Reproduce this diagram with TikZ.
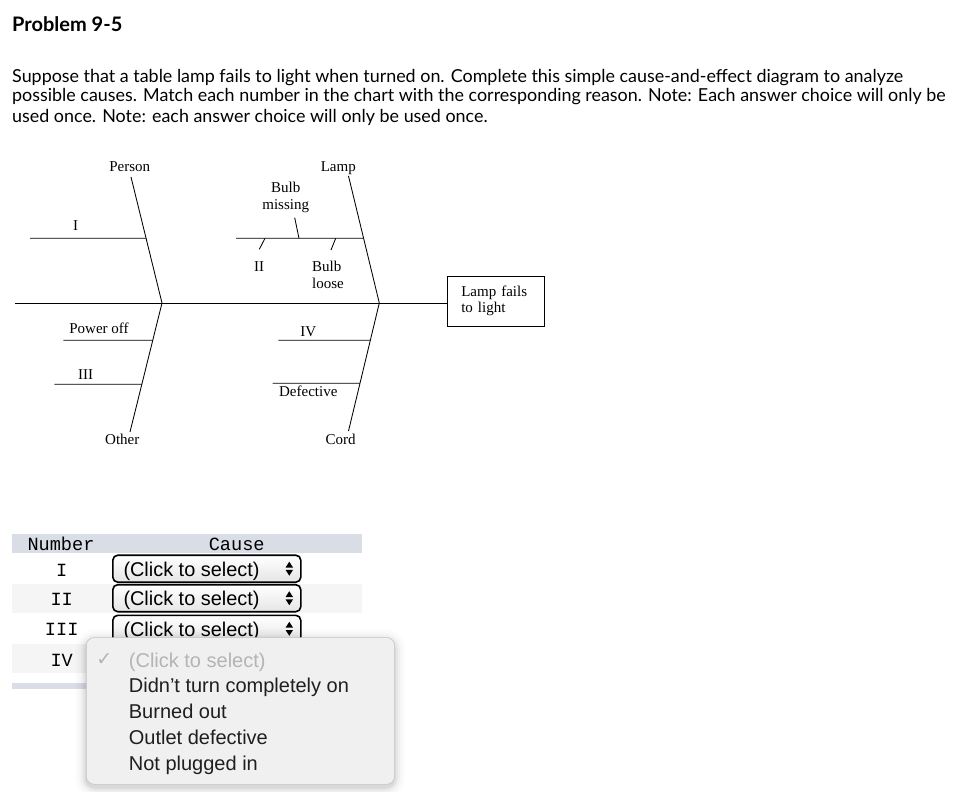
\documentclass[tikz,border=0pt]{standalone}
\usepackage{fontspec}
\usetikzlibrary{calc}
\setmainfont{Liberation Serif}
\newfontfamily\latof{Lato}
\newfontfamily\arialf{Liberation Sans}
\newfontfamily\monof{Liberation Mono}
\newfontfamily\dejavuf{DejaVu Sans}
\definecolor{hdrband}{HTML}{D9DDE6}
\definecolor{rowband}{HTML}{F5F5F5}
\definecolor{popfill}{HTML}{F0F0F0}
\definecolor{popline}{HTML}{C4C4C4}
\definecolor{dimtext}{HTML}{B4B4B4}
\begin{document}
\begin{tikzpicture}[x=1pt,y=-1pt,
  bone/.style={line width=0.85pt, black},
  lbl/.style={font=\fontsize{15}{17}\selectfont, inner sep=0pt, anchor=base},
  para/.style={font=\latof\fontsize{17.9}{20}\selectfont, inner sep=0pt, anchor=base west},
  monotxt/.style={font=\monof\fontsize{18.6}{20}\selectfont, inner sep=0pt, anchor=base},
  selbox/.style={draw=black, line width=1.6pt, rounded corners=5pt, top color=white, bottom color=black!10, minimum width=188pt, minimum height=27pt, inner sep=0pt},
  seltxt/.style={font=\arialf\fontsize{19.9}{22}\selectfont, inner sep=0pt, anchor=base west},
  itemtxt/.style={font=\arialf\fontsize{20}{22}\selectfont, inner sep=0pt, anchor=base west, text=black!88},
]
\useasboundingbox[fill=white] (0,0) rectangle (962,792);

% ---------- heading and question ----------
\node[font=\latof\bfseries\fontsize{20}{24}\selectfont, anchor=base west, inner sep=0pt] (title) at (12,32) {Problem 9-5};
\node[para] (q1) at (12,82) {Suppose that a table lamp fails to light when turned on. Complete this simple cause-and-effect diagram to analyze};
\node[para] (q2) at (12,102) {possible causes. Match each number in the chart with the corresponding reason. Note: Each answer choice will only be};
\node[para] (q3) at (12,122) {used once. Note: each answer choice will only be used once.};

% ---------- fishbone ----------
\coordinate (spineL) at (15,303);
\coordinate (h1) at (162,303);
\coordinate (h2) at (379.3,303);
\coordinate (pT) at (131,177);
\coordinate (oB) at (130,432);
\coordinate (lT) at (348.5,176);
\coordinate (cB) at (348.5,431);

\node[draw, line width=0.85pt, minimum width=97.3pt, minimum height=50.3pt, anchor=north west,
      inner xsep=14pt, text width=69pt, align=left, font=\fontsize{15}{16}\selectfont] (effect) at (446.7,275.7) {Lamp fails\\to light};

\draw[bone] (spineL) -- (spineL -| effect.west);
\draw[bone] (pT) -- (h1) -- (oB);
\draw[bone] (lT) -- (h2) -- (cB);

% branches (left end, and a helper point further right on the same level)
\foreach \nm/\xx/\yy in {bI/30/238.3, bPow/63.3/340.3, bIII/54.3/384.3, bBulb/236/238.3, bIV/278.3/340.3, bDef/272.7/383.3} {
  \coordinate (\nm) at (\xx,\yy);
  \coordinate (\nm x) at (\xx+10,\yy);
}
\draw[bone] (bI) -- (intersection of pT--h1 and bI--bIx);
\draw[bone] (bPow) -- (intersection of h1--oB and bPow--bPowx);
\draw[bone] (bIII) -- (intersection of h1--oB and bIII--bIIIx);
\draw[bone] (bBulb) -- (intersection of lT--h2 and bBulb--bBulbx);
\draw[bone] (bIV) -- (intersection of h2--cB and bIV--bIVx);
\draw[bone] (bDef) -- (intersection of h2--cB and bDef--bDefx);

% sub ticks
\coordinate (tMa) at (299,238.3);  \coordinate (tMb) at (294.7,217.7);
\coordinate (tIIa) at (265,238.3); \coordinate (tIIb) at (259.3,249.3);
\coordinate (tLa) at (335.7,238.3); \coordinate (tLb) at (331,250);
\draw[bone] (tMa) -- (tMb);
\draw[bone] (tIIa) -- (tIIb);
\draw[bone] (tLa) -- (tLb);

% labels
\node[lbl] (lPerson) at (129.7,171.5) {Person};
\node[lbl] (lLamp) at (338.3,171.5) {Lamp};
\node[lbl] (lI) at (75.7,230) {I};
\node[lbl, anchor=base, align=center] (lMiss) at (285.7,209.5) {Bulb\\missing};
\node[lbl] (lII) at (259,271.5) {II};
\node[lbl, anchor=base west, align=left] (lLoose) at (312,288) {Bulb\\loose};
\node[lbl] (lPow) at (99,333) {Power off};
\node[lbl] (lIII) at (85.7,379) {III};
\node[lbl] (lOther) at (122.3,444) {Other};
\node[lbl] (lIV) at (308.3,336.5) {IV};
\node[lbl] (lDef) at (308.3,396) {Defective};
\node[lbl] (lCord) at (340.7,444) {Cord};

% ---------- table ----------
\fill[hdrband] (12,534) rectangle (361.7,553.3);
\fill[rowband] (12,584) rectangle (361.7,612.7);
\fill[rowband] (12,644) rectangle (361.7,673.3);
\fill[hdrband] (12,682.7) rectangle (361.7,689.3);

\node[monotxt] (hNum) at (61,550) {Number};
\node[monotxt] (hCause) at (236.7,550) {Cause};
\node[monotxt] (nI) at (61.7,576) {I};
\node[monotxt] (nII) at (61.7,605) {II};
\node[monotxt] (nIII) at (61.7,635) {III};
\node[monotxt] (nIV) at (61.7,666) {IV};

\foreach \yy/\nm in {568.7/s1, 598.2/s2, 628.8/s3} {
  \node[selbox] (\nm) at (206.8,\yy) {};
  \node[seltxt] at (123.3,\yy+7.5) {(Click to select)};
  \fill (285.6,\yy-1.2) -- (293,\yy-1.2) -- (289.3,\yy-7) -- cycle;
  \fill (285.6,\yy+1.2) -- (293,\yy+1.2) -- (289.3,\yy+7) -- cycle;
}

% ---------- dropdown ----------
\foreach \k/\op in {11/0.01, 8/0.018, 5.5/0.028, 3.5/0.04, 1.5/0.055} {
  \fill[black, opacity=\op, rounded corners=9pt+\k pt] (86-\k,637.3-\k+3) rectangle (394.3+\k,784+\k+3);
}
\node[draw=popline, line width=0.6pt, fill=popfill, rounded corners=8pt, minimum width=308.3pt, minimum height=146.7pt, anchor=north west, inner sep=0pt] (popup) at (86,637.3) {};
\node[font=\dejavuf\fontsize{19}{22}\selectfont, text=dimtext, inner sep=0pt] (chk) at (104.3,660) {✓};
\node[itemtxt, text=dimtext] (o0) at (128.7,667) {(Click to select)};
\node[itemtxt] (o1) at (128.7,692.7) {Didn’t turn completely on};
\node[itemtxt] (o2) at (128.7,718.7) {Burned out};
\node[itemtxt] (o3) at (128.7,744.7) {Outlet defective};
\node[itemtxt] (o4) at (128.7,770.3) {Not plugged in};
\end{tikzpicture}
\end{document}
